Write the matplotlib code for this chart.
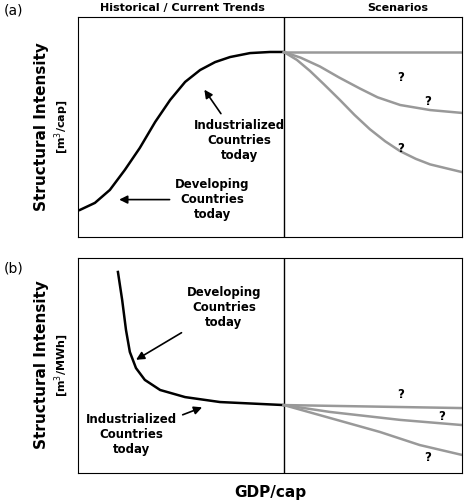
import matplotlib
matplotlib.use("Agg")
import matplotlib.pyplot as plt

a_hist_x = [0.5,4.4,8.3,12.2,16.1,20.1,24,27.9,31.8,35.7,39.6,44.8,50,53.6]
a_hist_y = [12.3,15.5,21.4,30.5,40.5,52.3,62.3,70.5,75.9,79.5,81.8,83.6,84.1,84.1]
a_s1_x = [53.6,100]; a_s1_y = [84.1,84.1]
a_s2_x = [53.6,58,63,68,73.4,78,83.9,91.7,100]; a_s2_y = [84.1,81.5,77.5,72.5,67.5,63.5,60,57.7,56.4]
a_s3_x = [53.6,57,60.4,64,68.2,72,76,80,83.9,88,91.7,100]; a_s3_y = [84.1,80.5,75.5,69.5,62.3,55.5,49,43.5,39,35.5,33,29.5]

b_hist_x = [10.4,11.5,12.5,13.5,15.1,17.4,21.4,27.9,37,53.6]
b_hist_y = [93.5,80.5,66.5,56.3,48.8,43.3,38.6,35.3,33,31.6]
b_s1_x = [53.6,100]; b_s1_y = [31.6,30.2]
b_s2_x = [53.6,65.6,83.9,100]; b_s2_y = [31.6,28.4,24.7,22.3]
b_s3_x = [53.6,65.6,78.6,89,100]; b_s3_y = [31.6,25.6,19.1,13,8.4]

fig = plt.figure(figsize=(4.74,5.04), dpi=100)
W,H = 474,504
def ax_at(l,t,r,b):
    return fig.add_axes([l/W, 1-b/H, (r-l)/W, (b-t)/H])
axa = ax_at(78,17,462,237)
axb = ax_at(78,258,462,473)
grey = "#999999"
fb = dict(fontweight="bold", fontsize=8.5, ha="center", va="center")
for ax in (axa, axb):
    ax.set_xlim(0,100); ax.set_ylim(0,100)
    ax.set_xticks([]); ax.set_yticks([])
    ax.axvline(53.6, color="black", lw=1)
    for s in ax.spines.values(): s.set_linewidth(0.8)

axa.plot(a_hist_x, a_hist_y, color="black", lw=1.8)
for xs,ys in [(a_s1_x,a_s1_y),(a_s2_x,a_s2_y),(a_s3_x,a_s3_y)]:
    axa.plot(xs, ys, color=grey, lw=1.8)
axb.plot(b_hist_x, b_hist_y, color="black", lw=1.8)
for xs,ys in [(b_s1_x,b_s1_y),(b_s2_x,b_s2_y),(b_s3_x,b_s3_y)]:
    axb.plot(xs, ys, color=grey, lw=1.8)

for x,y in [(83.9,72.7),(91.1,61.8),(83.9,40)]:
    axa.text(x,y,"?",**fb)
for x,y in [(83.9,36.3),(94.8,26.5),(91.1,7.4)]:
    axb.text(x,y,"?",**fb)

ap = dict(arrowstyle="-|>", color="black", lw=1.2, mutation_scale=12)
axa.annotate("Industrialized\nCountries\ntoday", xy=(32.5,68), xytext=(42,44), arrowprops=ap, **fb)
axa.annotate("Developing\nCountries\ntoday", xy=(10,17), xytext=(35,17), arrowprops=ap, **fb)
axb.annotate("Developing\nCountries\ntoday", xy=(14.5,52), xytext=(38,77), arrowprops=ap, **fb)
axb.annotate("Industrialized\nCountries\ntoday", xy=(33,31), xytext=(14,18), arrowprops=ap, **fb)

fig.text(182/W, 1-8/H, "Historical / Current Trends", fontweight="bold", fontsize=8, ha="center", va="center")
fig.text(398/W, 1-8/H, "Scenarios", fontweight="bold", fontsize=8, ha="center", va="center")
fig.text(4/W, 1-10/H, "(a)", fontsize=10, va="center")
fig.text(4/W, 1-268/H, "(b)", fontsize=10, va="center")
fig.text(42/W, 1-127/H, "Structural Intensity", fontweight="bold", fontsize=11, rotation=90, ha="center", va="center")
fig.text(62/W, 1-127/H, "[m$^3$/cap]", fontweight="bold", fontsize=8, rotation=90, ha="center", va="center")
fig.text(42/W, 1-365/H, "Structural Intensity", fontweight="bold", fontsize=11, rotation=90, ha="center", va="center")
fig.text(62/W, 1-365/H, "[m$^3$/MWh]", fontweight="bold", fontsize=8, rotation=90, ha="center", va="center")
fig.text(270/W, 1-492/H, "GDP/cap", fontweight="bold", fontsize=11, ha="center", va="center")
fig.savefig("out.png", dpi=100)
